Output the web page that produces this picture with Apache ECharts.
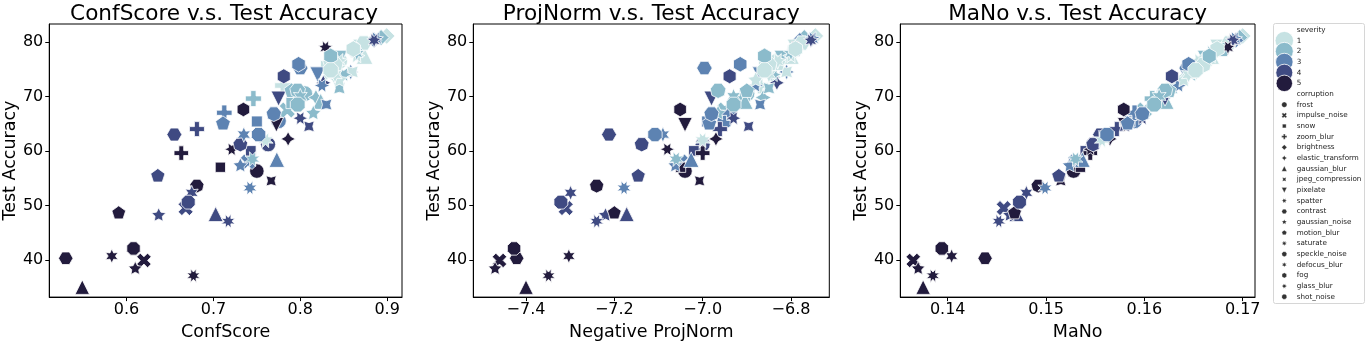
<!DOCTYPE html>
<html><head><meta charset="utf-8">
<script src="https://cdn.jsdelivr.net/npm/echarts@6/dist/echarts.min.js"></script>
<style>html,body{margin:0;padding:0;background:#fff}#c{width:1368px;height:346px}</style>
</head><body><div id="c"></div>
<script>
// ---------------- data ----------------
const severities = [1, 2, 3, 4, 5];
const corruptions = ['frost','impulse_noise','snow','zoom_blur','brightness','elastic_transform','gaussian_blur','jpeg_compression','pixelate','spatter','contrast','gaussian_noise','motion_blur','saturate','speckle_noise','defocus_blur','fog','glass_blur','shot_noise'];
// rows follow corruptions, columns follow severities 1..5
const accuracy = [
  [76.5, 70.5, 65.5, 61.2, 56.3],
  [74.5, 67.5, 58.0, 49.5, 39.9],
  [75.5, 68.8, 65.4, 60.0, 57.0],
  [72.0, 69.6, 67.0, 64.0, 59.6],
  [81.1, 80.8, 80.3, 79.6, 78.4],
  [73.5, 69.8, 74.5, 72.5, 62.2],
  [77.4, 69.1, 58.4, 48.4, 35.0],
  [74.5, 71.5, 68.5, 64.5, 54.5],
  [79.0, 77.0, 74.0, 69.6, 64.8],
  [77.5, 74.0, 72.0, 66.0, 60.3],
  [79.8, 78.6, 75.2, 63.0, 40.3],
  [73.0, 66.9, 57.3, 48.2, 38.4],
  [76.0, 71.0, 65.0, 55.4, 48.6],
  [76.5, 78.0, 80.6, 80.3, 79.0],
  [75.8, 71.1, 66.8, 61.2, 53.6],
  [74.0, 70.0, 63.0, 52.3, 40.7],
  [78.7, 77.4, 75.9, 73.7, 67.6],
  [62.0, 58.5, 53.2, 47.1, 37.1],
  [74.8, 68.5, 63.0, 50.6, 42.1]
];
const confScore = [
  [0.845, 0.805, 0.775, 0.763, 0.750],
  [0.835, 0.785, 0.740, 0.668, 0.620],
  [0.830, 0.790, 0.750, 0.743, 0.708],
  [0.780, 0.746, 0.7125, 0.681, 0.663],
  [0.8995, 0.893, 0.885, 0.872, 0.860],
  [0.840, 0.818, 0.858, 0.8265, 0.786],
  [0.874, 0.8235, 0.773, 0.7026, 0.549],
  [0.860, 0.845, 0.830, 0.810, 0.7665],
  [0.870, 0.845, 0.820, 0.775, 0.7725],
  [0.865, 0.850, 0.825, 0.800, 0.721],
  [0.873, 0.862, 0.800, 0.655, 0.530],
  [0.845, 0.815, 0.731, 0.637, 0.610],
  [0.835, 0.790, 0.711, 0.636, 0.591],
  [0.845, 0.865, 0.887, 0.885, 0.829],
  [0.840, 0.797, 0.7695, 0.731, 0.681],
  [0.840, 0.800, 0.735, 0.675, 0.583],
  [0.861, 0.835, 0.798, 0.781, 0.7345],
  [0.760, 0.745, 0.742, 0.717, 0.677],
  [0.835, 0.797, 0.752, 0.671, 0.608]
];
const projNorm = [
  [-6.83, -6.90, -6.95, -7.00, -7.04],
  [-6.86, -6.95, -7.05, -7.31, -7.46],
  [-6.86, -6.92, -6.99, -7.02, -7.05],
  [-6.87, -6.91, -6.94, -6.961, -7.00],
  [-6.745, -6.77, -6.78, -6.778, -6.795],
  [-6.84, -6.863, -6.81, -6.832, -6.97],
  [-6.80, -6.904, -7.026, -7.172, -7.40],
  [-6.81, -6.85, -6.87, -6.896, -7.007],
  [-6.79, -6.82, -6.87, -6.98, -7.04],
  [-6.80, -6.84, -6.88, -6.93, -7.08],
  [-6.775, -6.79, -6.996, -7.212, -7.421],
  [-6.88, -6.965, -7.062, -7.22, -7.47],
  [-6.83, -6.90, -6.985, -7.146, -7.20],
  [-6.83, -6.80, -6.751, -6.755, -6.791],
  [-6.85, -6.965, -6.98, -7.138, -7.240],
  [-6.85, -6.93, -7.09, -7.299, -7.303],
  [-6.79, -6.86, -6.915, -6.939, -7.051],
  [-7.00, -7.06, -7.178, -7.24, -7.349],
  [-6.86, -6.93, -7.108, -7.321, -7.427]
];
const maNo = [
  [0.1662, 0.1620, 0.1590, 0.1548, 0.1528],
  [0.1648, 0.1600, 0.1530, 0.1457, 0.1365],
  [0.1652, 0.1610, 0.1585, 0.1540, 0.1535],
  [0.1630, 0.1608, 0.1590, 0.1572, 0.1545],
  [0.1700, 0.1697, 0.1693, 0.1685, 0.1674],
  [0.1640, 0.1615, 0.1650, 0.1638, 0.1565],
  [0.1668, 0.1622, 0.1537, 0.1470, 0.1375],
  [0.1645, 0.1628, 0.1610, 0.1580, 0.1515],
  [0.1675, 0.1662, 0.1645, 0.1621, 0.1580],
  [0.1668, 0.1648, 0.1635, 0.1598, 0.1545],
  [0.1686, 0.1680, 0.1643, 0.1555, 0.1438],
  [0.1640, 0.1600, 0.1524, 0.1463, 0.1370],
  [0.1656, 0.1625, 0.1583, 0.1513, 0.1468],
  [0.1655, 0.1668, 0.1692, 0.1690, 0.1685],
  [0.1660, 0.1621, 0.1598, 0.1548, 0.1492],
  [0.1645, 0.1615, 0.1560, 0.1480, 0.1404],
  [0.1674, 0.1666, 0.1645, 0.1628, 0.1579],
  [0.1557, 0.1530, 0.1499, 0.1452, 0.1385],
  [0.1652, 0.1610, 0.1562, 0.1473, 0.1394]
];
const xTicksConf = [0.6, 0.7, 0.8, 0.9];
const xTicksProj = [-7.4, -7.2, -7.0, -6.8];
const xTicksMaNo = [0.14, 0.15, 0.16, 0.17];
const yTicks = [40, 50, 60, 70, 80];
const titles = ['ConfScore v.s. Test Accuracy', 'ProjNorm v.s. Test Accuracy', 'MaNo v.s. Test Accuracy'];
const xNames = ['ConfScore', 'Negative ProjNorm', 'MaNo'];
const yName = 'Test Accuracy';

// ---------------- style ----------------
const FONT = '"DejaVu Sans", sans-serif';
const severityColors = ['#c6e2e3', '#8bbbcb', '#5d83b2', '#3f4a82', '#221b3d'];
const markerSize = [16.5, 16, 15.5, 15, 14.5];
const legendCircle = [18.5, 18, 17.5, 17, 16.5];

// seaborn-like marker list
const markerSpecs = ['o', 'X', [4,0,45], 'P', [4,0,0], [4,1,0], '^', [4,1,45], 'v'];
(function () {
  let s = 5;
  while (markerSpecs.length < corruptions.length) {
    const a = 360 / (s + 1) / 2;
    markerSpecs.push([s + 1, 1, a], [s + 1, 0, a], [s, 1, 0], [s, 0, 0]);
    s++;
  }
})();
function f3(v) { return (Math.round(v * 1000) / 1000).toString(); }
// unit-box outline points (y up) for each marker shape
function markerPoints(spec) {
  if (spec === 'X') return [[-1,-2],[0,-1],[1,-2],[2,-1],[1,0],[2,1],[1,2],[0,1],[-1,2],[-2,1],[-1,0],[-2,-1]].map(p => [p[0]/2, p[1]/2]);
  if (spec === 'P') return [[-1,-3],[1,-3],[1,-1],[3,-1],[3,1],[1,1],[1,3],[-1,3],[-1,1],[-3,1],[-3,-1],[-1,-1]].map(p => [p[0]/3, p[1]/3]);
  if (spec === '^') return [[0,1],[-1,-1],[1,-1]];
  if (spec === 'v') return [[0,-1],[-1,1],[1,1]];
  if (spec === 'o') {
    const pts = [];
    for (let k = 0; k < 48; k++) { const t = 2*Math.PI*k/48; pts.push([Math.cos(t), Math.sin(t)]); }
    return pts;
  }
  const n = spec[0], star = spec[1] === 1, rot = spec[2] * Math.PI / 180;
  const pts = [];
  const m = star ? 2 * n : n;
  for (let k = 0; k < m; k++) {
    const t = 2 * Math.PI * k / m + Math.PI / 2 + rot;
    const r = star && (k % 2 === 1) ? 0.5 : 1;
    pts.push([r * Math.cos(t), r * Math.sin(t)]);
  }
  return pts;
}
function pathFrom(pts) {
  let s = 'M-1,-1M1,1';
  pts.forEach((p, i) => { s += (i ? 'L' : 'M') + f3(p[0]) + ',' + f3(-p[1]); });
  return s + 'Z';
}
const markerPts = markerSpecs.map(markerPoints);
const markerSymbols = markerSpecs.map((s, i) => s === 'o' ? 'circle' : 'path://' + pathFrom(markerPts[i]));

// ---------------- layout ----------------
const grids = [
  { left: 46, top: 24, width: 356, height: 279 },
  { left: 473.3, top: 24, width: 356, height: 279 },
  { left: 900.3, top: 24, width: 354.7, height: 279 }
];
const xRanges = [[0.5110, 0.9171], [-7.5193, -6.7133], [0.13518, 0.17125]];
const yRange = [33.17, 83.29];
const xTickSets = [xTicksConf, xTicksProj, xTicksMaNo];
const xFormatters = [
  v => v.toFixed(1),
  v => (v < 0 ? '\u2212' : '') + Math.abs(v).toFixed(1),
  v => v.toFixed(2)
];
const metrics = [confScore, projNorm, maNo];

function buildData(metric) {
  const out = [];
  corruptions.forEach((c, ci) => {
    severities.forEach((sev, si) => {
      out.push({
        name: c + ' / ' + sev,
        value: [metric[ci][si], accuracy[ci][si]],
        symbol: markerSymbols[ci],
        symbolSize: markerSize[si],
        itemStyle: { color: severityColors[si] }
      });
    });
  });
  return out;
}

const option = {
  animation: false,
  backgroundColor: '#fff',
  title: grids.map((g, i) => ({
    text: titles[i], left: g.left + g.width / 2, top: 3, textAlign: 'center', padding: 0,
    textStyle: { fontSize: 21.6, fontWeight: 'normal', fontFamily: FONT, color: '#000' }
  })),
  grid: grids.map(g => Object.assign({ show: true, borderColor: '#000', borderWidth: 1, containLabel: false }, g)),
  xAxis: grids.map((g, i) => ({
    type: 'value', gridIndex: i, min: xRanges[i][0], max: xRanges[i][1],
    name: xNames[i], nameLocation: 'middle', nameGap: 22,
    nameTextStyle: { fontSize: 17.5, color: '#000', fontFamily: FONT },
    axisLine: { show: true, onZero: false, lineStyle: { color: '#000', width: 1 } },
    axisTick: { show: true, inside: false, length: 4, customValues: xTickSets[i], lineStyle: { color: '#000', width: 1 } },
    axisLabel: { show: true, customValues: xTickSets[i], margin: 5, fontSize: 16, color: '#000', fontFamily: FONT, formatter: xFormatters[i] },
    splitLine: { show: false }
  })),
  yAxis: grids.map((g, i) => ({
    type: 'value', gridIndex: i, min: yRange[0], max: yRange[1],
    name: yName, nameLocation: 'middle', nameGap: 29, nameRotate: 90,
    nameTextStyle: { fontSize: 17.5, color: '#000', fontFamily: FONT },
    axisLine: { show: true, onZero: false, lineStyle: { color: '#000', width: 1 } },
    axisTick: { show: true, inside: false, length: 4, customValues: yTicks, lineStyle: { color: '#000', width: 1 } },
    axisLabel: { show: true, customValues: yTicks, margin: 6, fontSize: 16, color: '#000', fontFamily: FONT, formatter: v => String(Math.round(v)) },
    splitLine: { show: false }
  })),
  series: metrics.map((m, i) => ({
    type: 'scatter', xAxisIndex: i, yAxisIndex: i,
    symbolKeepAspect: true,
    itemStyle: { borderColor: '#fff', borderWidth: 0.8, opacity: 1 },
    emphasis: { disabled: true },
    data: buildData(m)
  })),
  graphic: []
};

// ---------------- legend (drawn as graphics) ----------------
const lg = { x: 1273.5, y: 23.5, w: 91, h: 280, textX: 1296.7, iconX: 1284.3, row0: 30, step: 10.67 };
const legendEls = [];
legendEls.push({ type: 'rect', shape: { x: lg.x, y: lg.y, width: lg.w, height: lg.h, r: 2 }, style: { fill: '#fff', stroke: '#d6d6d6', lineWidth: 1 }, z: 10 });
const rows = ['severity'].concat(severities.map(String), ['corruption'], corruptions);
rows.forEach((label, r) => {
  const y = lg.row0 + r * lg.step;
  legendEls.push({ type: 'text', x: lg.textX, y: y, z: 12,
    style: { text: label, fill: '#1a1a1a', font: '7.2px ' + FONT, verticalAlign: 'middle', align: 'left' } });
});
severities.forEach((sev, si) => {
  const y = lg.row0 + (si + 1) * lg.step;
  legendEls.push({ type: 'circle', z: 11, shape: { cx: lg.iconX, cy: y, r: legendCircle[si] / 2 },
    style: { fill: severityColors[si], stroke: '#fff', lineWidth: 0.8 } });
});
corruptions.forEach((c, ci) => {
  const y = lg.row0 + (ci + 7) * lg.step;
  const half = 2.6;
  legendEls.push({ type: 'polygon', z: 11,
    shape: { points: markerPts[ci].map(p => [lg.iconX + p[0] * half, y - p[1] * half]) },
    style: { fill: '#333', stroke: '#fff', lineWidth: 0.3 } });
});
option.graphic = legendEls;

const chart = echarts.init(document.getElementById('c'), null, { renderer: 'canvas' });
chart.setOption(option);
</script>
</body></html>
